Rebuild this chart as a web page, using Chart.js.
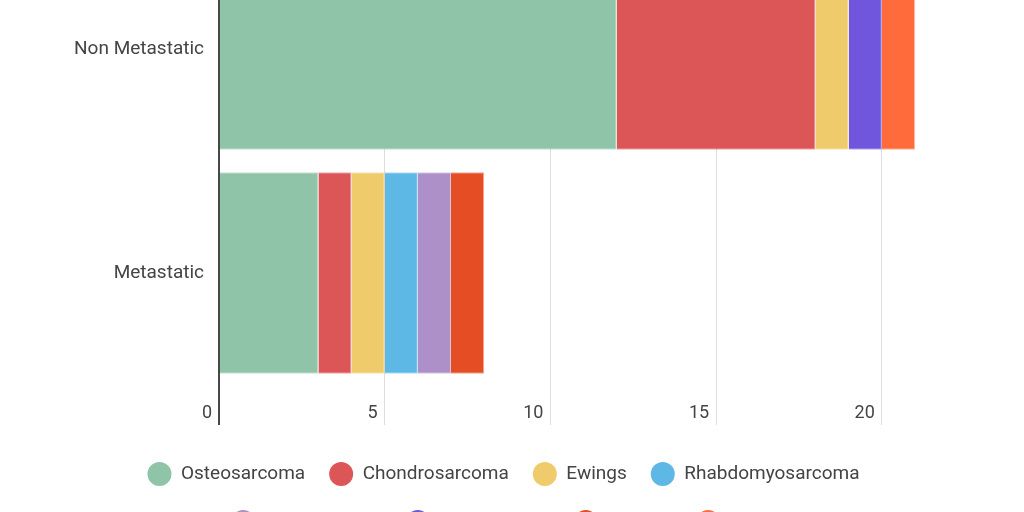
<!DOCTYPE html>
<html>
<head>
<meta charset="utf-8">
<script src="https://cdn.jsdelivr.net/npm/chart.js@4.4.1/dist/chart.umd.min.js"></script>
<style>
  html, body { margin: 0; padding: 0; background: #fff; overflow: hidden; }
  #wrap { position: absolute; left: 0; top: -63px; width: 1024px; height: 607px; }
</style>
</head>
<body>
<div id="wrap"><canvas id="chart"></canvas></div>
<script>
const categories = ['Non Metastatic', 'Metastatic'];

const osteosarcoma = [12, 3];
const chondrosarcoma = [6, 1];
const ewings = [1, 1];
const rhabdomyosarcoma = [0, 1];
const fibrosarcoma = [0, 1];
const liposarcoma = [1, 0];
const mpnst = [0, 1];
const other = [1, 0];

const xTicks = [0, 5, 10, 15, 20];
const xMax = 21;

const series = [
  { label: 'Osteosarcoma', data: osteosarcoma, color: '#8fc4a9' },
  { label: 'Chondrosarcoma', data: chondrosarcoma, color: '#dd5657' },
  { label: 'Ewings', data: ewings, color: '#f0cb6b' },
  { label: 'Rhabdomyosarcoma', data: rhabdomyosarcoma, color: '#5eb8e6' },
  { label: 'Fibrosarcoma', data: fibrosarcoma, color: '#ad90c8' },
  { label: 'Liposarcoma', data: liposarcoma, color: '#6f56dc' },
  { label: 'MPNST', data: mpnst, color: '#e54d24' },
  { label: 'Other', data: other, color: '#ff6b3b' },
];

const textColor = '#444';

// keep the legend centred over the same span as the original layout
const legendSpan = {
  id: 'legendSpan',
  afterLayout(chart) {
    chart.legend.left = 92;
    chart.legend.right = 915;
  },
};

new Chart(document.getElementById('chart'), {
  type: 'bar',
  data: {
    labels: categories,
    datasets: series.map(s => ({
      label: s.label,
      data: s.data,
      backgroundColor: s.color,
      borderColor: s.color + '80',
      borderWidth: 1,
      categoryPercentage: 1,
      barPercentage: 0.9,
    })),
  },
  plugins: [legendSpan],
  options: {
    indexAxis: 'y',
    responsive: true,
    maintainAspectRatio: false,
    animation: false,
    layout: { padding: { left: 0, right: 109, top: 0, bottom: 0 } },
    scales: {
      x: {
        stacked: true,
        min: 0,
        max: xMax,
        afterBuildTicks: (scale) => {
          scale.ticks = xTicks.map(v => ({ value: v }));
        },
        afterFit: (scale) => {
          scale.height = 53;
          scale.paddingLeft = 0;
          scale.paddingRight = 0;
        },
        border: { display: false },
        grid: {
          color: (ctx) => (ctx.tick && ctx.tick.value === 0 ? '#474747' : '#dddddd'),
          lineWidth: (ctx) => (ctx.tick && ctx.tick.value === 0 ? 2 : 1),
          tickLength: 40,
        },
        ticks: {
          align: 'end',
          labelOffset: -7,
          padding: -22.7,
          color: textColor,
          font: { family: 'Roboto', size: 18 },
        },
      },
      y: {
        stacked: true,
        afterFit: (scale) => {
          scale.width = 219;
          scale.paddingTop = 0;
          scale.paddingBottom = 0;
        },
        border: { display: false },
        grid: { display: false, drawTicks: false },
        ticks: {
          padding: 15,
          color: textColor,
          font: { family: 'Roboto', size: 19 },
        },
      },
    },
    plugins: {
      tooltip: { enabled: false },
      legend: {
        position: 'bottom',
        labels: {
          boxWidth: 24,
          boxHeight: 24,
          useBorderRadius: true,
          borderRadius: 12,
          padding: 24,
          color: textColor,
          font: { family: 'Roboto', size: 19 },
          generateLabels: (chart) => {
            const items = Chart.defaults.plugins.legend.labels.generateLabels(chart);
            items.forEach(it => {
              it.lineWidth = 0;
              it.fillStyle = series[it.datasetIndex].color;
            });
            return items;
          },
        },
      },
    },
  },
});
</script>
</body>
</html>
